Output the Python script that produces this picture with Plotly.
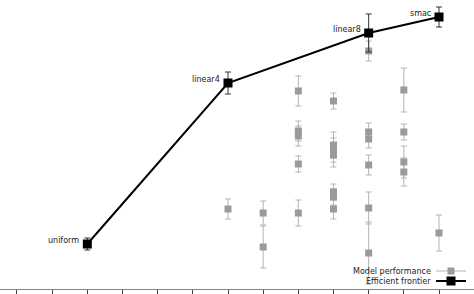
import plotly.graph_objects as go

# Efficient frontier (x = cost index, y = performance, arbitrary units)
frontier_labels = ["uniform", "linear4", "linear8", "smac"]
frontier_x = [2, 6, 10, 12]
frontier_y = [4.5, 20.6, 25.6, 27.2]
frontier_err = [0.6, 1.1, 1.9, 1.0]

# Other model configurations
model_x = [6, 7, 7, 8, 8, 8, 8, 8, 9, 9, 9, 9, 9, 9, 9,
           10, 10, 10, 10, 10, 10, 11, 11, 11, 11, 12]
model_y = [8.0, 7.6, 4.2, 19.8, 15.8, 15.3, 12.5, 7.6,
           18.8, 14.4, 13.9, 13.4, 9.7, 9.2, 8.0,
           23.8, 15.7, 15.0, 12.4, 8.1, 3.6,
           19.9, 15.7, 12.7, 11.7, 5.6]
model_err = [1.0, 1.2, 2.1, 1.5, 1.0, 1.0, 0.8, 1.3,
             0.8, 1.3, 1.2, 1.2, 0.8, 0.8, 1.0,
             1.0, 0.9, 0.9, 1.0, 1.6, 3.1,
             2.2, 0.8, 1.6, 1.4, 1.8]

tick_vals = list(range(0, 14))
legend_names = ["Model performance", "Efficient frontier"]

FONT = "DejaVu Sans"
GRAY = "#9a9a9a"

fig = go.Figure()

fig.add_trace(go.Scatter(
    x=model_x, y=model_y, mode="markers",
    marker=dict(symbol="square", size=7, color=GRAY),
    error_y=dict(type="data", array=model_err, color="#b4b4b4",
                 thickness=1, width=3),
    showlegend=False, cliponaxis=False,
))

# legend glyph for model performance
fig.add_trace(go.Scatter(
    x=[None], y=[None], mode="lines+markers", name="",
    line=dict(color="#b4b4b4", width=1),
    marker=dict(symbol="square", size=7, color=GRAY),
    legend="legend", showlegend=True,
))

fig.add_trace(go.Scatter(
    x=frontier_x, y=frontier_y, mode="lines+markers", name="",
    line=dict(color="black", width=2),
    marker=dict(symbol="square", size=9, color="black"),
    error_y=dict(type="data", array=frontier_err, color="#333333",
                 thickness=1, width=3),
    legend="legend2", showlegend=True, cliponaxis=False,
))

annotations = []
for lab, xv, yv in zip(frontier_labels, frontier_x, frontier_y):
    annotations.append(dict(
        x=xv, y=yv, xref="x", yref="y", text=lab, showarrow=False,
        xanchor="right", yanchor="middle", xshift=-6, yshift=4,
        font=dict(family=FONT, size=8, color="#222222"),
    ))

leg_y = [(289 - 271) / 289, (289 - 281) / 289]
for name, ly in zip(legend_names, leg_y):
    annotations.append(dict(
        x=433 / 474, y=ly, xref="paper", yref="paper", text=name,
        showarrow=False, xanchor="right", yanchor="middle",
        font=dict(family=FONT, size=8, color="#222222"),
    ))

fig.update_layout(
    width=474, height=294,
    margin=dict(l=0, r=0, t=0, b=5, autoexpand=False),
    paper_bgcolor="white", plot_bgcolor="white",
    font=dict(family=FONT, size=8, color="#222222"),
    xaxis=dict(range=[-0.483, 12.995], tickvals=tick_vals,
               showticklabels=False, ticks="outside", ticklen=5,
               tickcolor="#444444", showgrid=False, zeroline=False,
               showline=True, linecolor="#888888", linewidth=1),
    yaxis=dict(range=[0, 28.9], visible=False, showgrid=False,
               zeroline=False),
    legend=dict(x=431 / 474, y=leg_y[0], xanchor="left", yanchor="middle",
                bgcolor="rgba(0,0,0,0)", font=dict(size=8),
                itemwidth=30, borderwidth=0),
    legend2=dict(x=431 / 474, y=leg_y[1], xanchor="left", yanchor="middle",
                 bgcolor="rgba(0,0,0,0)", font=dict(size=8),
                 itemwidth=30, borderwidth=0),
    annotations=annotations,
    showlegend=True,
)

fig.write_html("out.html")
